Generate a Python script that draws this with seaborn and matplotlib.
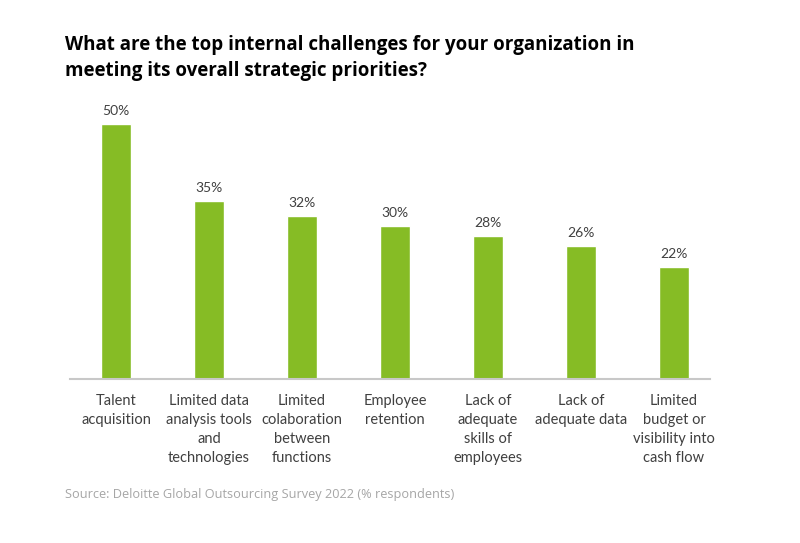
import matplotlib.pyplot as plt
import pandas as pd
import seaborn as sns

categories = ["Talent\nacquisition",
              "Limited data\nanalysis tools\nand\ntechnologies",
              "Limited\ncolaboration\nbetween\nfunctions",
              "Employee\nretention",
              "Lack of\nadequate\nskills of\nemployees",
              "Lack of\nadequate data",
              "Limited\nbudget or\nvisibility into\ncash flow"]
values = [50, 35, 32, 30, 28, 26, 22]

data = pd.DataFrame({"Challenge": categories, "Share": values})

sns.set_theme(style="white")
plt.rcParams['font.family'] = ['Lato', 'DejaVu Sans']

fig = plt.figure(figsize=(8, 5.43), dpi=100)
ax = fig.add_axes([0.0875, 0.302, 0.8, 0.5166])

sns.barplot(data=data, x="Challenge", y="Share", color="#86bc25",
            saturation=1, width=0.32, ax=ax)

ax.set_xlim(-0.495, 6.387)
ax.set_ylim(0, 55)

for c in ax.containers:
    ax.bar_label(c, labels=[f"{v}%" for v in values], padding=5,
                 fontsize=10, color="#404040")

ax.set_yticks([])
ax.set_xlabel("")
ax.set_ylabel("")
for s in ["top", "right", "left"]:
    ax.spines[s].set_visible(False)
ax.spines["bottom"].set_color("#c8c8c8")
ax.spines["bottom"].set_linewidth(1.5)
ax.tick_params(axis="x", length=0, pad=11, labelsize=10.5, labelcolor="#404040")
for lbl in ax.get_xticklabels():
    lbl.set_linespacing(1.45)
    lbl.set_va("top")

fig.text(0.081, 0.935, "What are the top internal challenges for your organization in\nmeeting its overall strategic priorities?",
         family="Open Sans", fontweight="bold", fontsize=13.5, color="#000000",
         va="top", ha="left", linespacing=1.4)

fig.text(0.081, 0.09, "Source: Deloitte Global Outsourcing Survey 2022 (% respondents)",
         family="Open Sans", fontsize=9.2, color="#a6a6a6", va="center", ha="left")

fig.savefig("out.png", dpi=100)
